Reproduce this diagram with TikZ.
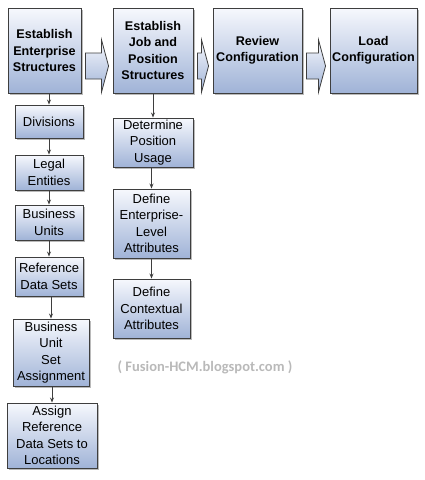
\documentclass[tikz,border=0pt]{standalone}
\usepackage{fontspec}
\setmainfont{Liberation Sans}
\newfontfamily\markfont{Carlito}
\usepackage{xcolor}
\usetikzlibrary{calc,shadows,arrows.meta}

\definecolor{boxtop}{RGB}{246,248,253}
\definecolor{boxbot}{RGB}{160,179,215}
\definecolor{boxline}{RGB}{62,62,62}
\definecolor{markgray}{RGB}{185,185,185}

\begin{document}
\begin{tikzpicture}[x=1pt, y=-1pt,
    stepbox/.style={draw=boxline, line width=0.9pt, top color=boxtop, bottom color=boxbot,
      drop shadow={shadow xshift=2pt, shadow yshift=-2pt, fill=black!45, opacity=.6},
      align=center, inner sep=0pt, font=\fontsize{13}{16.5}\selectfont},
    mainbox/.style={stepbox, font=\fontsize{12.6}{16.5}\selectfont\bfseries},
    blockarrow/.style={draw=boxline, line width=0.8pt, top color=boxtop, bottom color=boxbot},
    link/.style={draw=boxline, line width=0.9pt, -{Stealth[length=5pt, width=4pt]}}]
      \useasboundingbox (0,0) rectangle (425,480);

      \node[mainbox, minimum width=73pt, minimum height=85pt] (est) at (44.5,50.5) {Establish\\Enterprise\\Structures};
      \node[mainbox, minimum width=80pt, minimum height=85pt] (job) at (153,50.5) {Establish\\Job and\\Position\\Structures};
      \node[mainbox, minimum width=89pt, minimum height=85pt] (rev) at (257.5,50.5) {Review\\Configuration};
      \node[mainbox, minimum width=87pt, minimum height=85pt] (load) at (373.5,50.5) {Load\\Configuration};

      \node[stepbox, minimum width=68pt, minimum height=33pt] (div) at (49,121.5) {Divisions};
      \node[stepbox, minimum width=68pt, minimum height=35pt] (legal) at (49,172.5) {Legal\\Entities};
      \node[stepbox, minimum width=68pt, minimum height=35pt] (bu) at (49,222.5) {Business\\Units};
      \node[stepbox, minimum width=68pt, minimum height=39pt] (refds) at (49,276.5) {Reference\\Data Sets};
      \node[stepbox, minimum width=76pt, minimum height=67pt] (buset) at (51,352.5) {Business\\Unit\\Set\\Assignment};
      \node[stepbox, minimum width=90pt, minimum height=65pt] (assign) at (52,435.5) {Assign\\Reference\\Data Sets to\\Locations};

      \node[stepbox, minimum width=80pt, minimum height=49pt] (detpos) at (153,142.5) {Determine\\Position\\Usage};
      \node[stepbox, minimum width=77pt, minimum height=69pt] (defent) at (151.5,223.5) {Define\\Enterprise-\\Level\\Attributes};
      \node[stepbox, minimum width=77pt, minimum height=59pt] (defctx) at (151.5,308.5) {Define\\Contextual\\Attributes};

      \foreach \a/\b in {est/job, job/rev, rev/load}
        \draw[blockarrow] let \p1=(\a.east), \p2=(\b.west) in
          (\x1+4pt,-53pt) -- (\x2-11pt,-53pt) -- (\x2-11pt,-40pt) -- (\x2-4pt,-66pt)
          -- (\x2-11pt,-92pt) -- (\x2-11pt,-79pt) -- (\x1+4pt,-79pt) -- cycle;

      \foreach \a/\b in {est/div, div/legal, legal/bu, bu/refds, refds/buset, buset/assign, job/detpos, detpos/defent, defent/defctx}
        \draw[link] (\a.south -| \b.north) -- (\b.north);

      \node[text=markgray, font=\markfont\fontsize{14.5}{16}\selectfont\bfseries] (blog) at (205,367) {( Fusion-HCM.blogspot.com )};
    \end{tikzpicture}
\end{document}
